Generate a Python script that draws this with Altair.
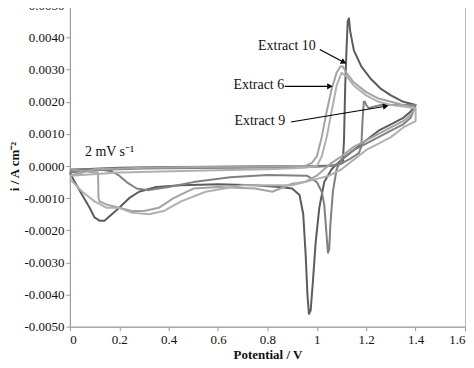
import math
import altair as alt
import pandas as pd

# ---------------- data (potential V, current A cm^-2) ----------------
V10 = [0.00, 0.05, 0.20, 0.40, 0.60, 0.80, 1.00, 1.08, 1.105, 1.11, 1.115, 1.12, 1.125, 1.13, 1.135, 1.15, 1.18, 1.22, 1.26, 1.30, 1.35, 1.40,
       1.38, 1.35, 1.30, 1.25, 1.20, 1.15, 1.10, 1.06, 1.03, 1.01, 0.995, 0.985, 0.975, 0.968, 0.962, 0.955, 0.945, 0.93, 0.90, 0.85, 0.75,
       0.60, 0.45, 0.35, 0.28, 0.24, 0.20, 0.17, 0.14, 0.12, 0.10, 0.08, 0.05, 0.02, 0.00]
I10 = [-0.00015, -0.0001, -0.00005, -0.00003, -0.00002, -0.00001, 0.0, 0.00002, 0.0001, 0.0008, 0.0025, 0.0036, 0.0045, 0.0046, 0.0042,
       0.0036, 0.0031, 0.0027, 0.0024, 0.0022, 0.0020, 0.0019,
       0.0017, 0.0015, 0.0013, 0.0011, 0.0008, 0.0005, 0.0002, -0.0001, -0.0005, -0.0013, -0.0024, -0.0035, -0.0045, -0.0046, -0.0040,
       -0.0028, -0.0015, -0.0009, -0.0007, -0.00065, -0.0006, -0.00057, -0.0006, -0.00065, -0.0008, -0.001, -0.0013, -0.0015, -0.0017,
       -0.0017, -0.0016, -0.0013, -0.0009, -0.0005, -0.0002]

V9 = [0.00, 0.10, 0.30, 0.50, 0.70, 0.90, 1.00, 1.05, 1.10, 1.14, 1.17, 1.18, 1.185, 1.19, 1.195, 1.20, 1.21, 1.23, 1.26, 1.30, 1.35, 1.40,
      1.38, 1.35, 1.30, 1.25, 1.20, 1.15, 1.10, 1.08, 1.065, 1.055, 1.05, 1.045, 1.04, 1.03, 1.02, 1.00, 0.96, 0.80, 0.65, 0.50, 0.40,
      0.32, 0.27, 0.23, 0.20, 0.17, 0.12, 0.05, 0.00]
I9 = [-0.0002, -0.00012, -0.00008, -0.00006, -0.00005, -0.00004, -0.00002, 0.0, 0.00008, 0.00025, 0.0004, 0.0006, 0.0014, 0.0020, 0.0020,
      0.0019, 0.0018, 0.00185, 0.0019, 0.0019, 0.0019, 0.0019,
      0.0015, 0.0013, 0.0011, 0.0009, 0.0007, 0.0005, 0.0002, -0.0001, -0.0008, -0.0018, -0.0026, -0.0027, -0.0022, -0.0012, -0.0008,
      -0.0005, -0.0003, -0.00028, -0.00035, -0.0005, -0.00065, -0.00075, -0.0007, -0.0005, -0.0003, -0.00017, -0.0001, -0.0001, -0.0001]

V6a = [0.00, 0.10, 0.30, 0.50, 0.70, 0.90, 0.95, 0.98, 1.00, 1.02, 1.04, 1.06, 1.08, 1.095, 1.105, 1.12, 1.15, 1.20, 1.25, 1.30, 1.35, 1.40,
       1.38, 1.35, 1.30, 1.25, 1.20, 1.15, 1.10, 1.06, 1.03, 1.00, 0.95, 0.90, 0.82, 0.75, 0.60, 0.50, 0.42, 0.36, 0.30, 0.25, 0.20, 0.15,
       0.12, 0.116, 0.114, 0.08, 0.04, 0.00]
I6a = [-0.0003, -0.0001, -0.00005, -0.00003, -0.00002, -0.00001, 0.0, 0.0001, 0.0003, 0.0009, 0.0017, 0.0024, 0.0029, 0.0031, 0.0031,
       0.0029, 0.0026, 0.0023, 0.0021, 0.0020, 0.0019, 0.0018,
       0.0016, 0.0014, 0.0012, 0.0010, 0.0008, 0.0006, 0.0003, 0.0001, -0.0001, -0.0003, -0.0005, -0.00055, -0.0008, -0.0007, -0.00065,
       -0.0007, -0.001, -0.0013, -0.0014, -0.0014, -0.0013, -0.0012, -0.0011, -0.0010, -0.0002, -0.00018, -0.00015, -0.0001]

V6b = [0.00, 0.20, 0.50, 0.80, 0.95, 1.00, 1.02, 1.04, 1.06, 1.08, 1.10, 1.12, 1.15, 1.20, 1.25, 1.30, 1.35, 1.40,
       1.40, 1.35, 1.30, 1.25, 1.20, 1.15, 1.10, 1.05, 1.00, 0.90, 0.70, 0.55, 0.45, 0.38, 0.32, 0.25, 0.20, 0.15, 0.10, 0.05, 0.00]
I6b = [-0.0003, -0.0002, -0.00015, -0.0001, -0.00005, 0.0, 0.0003, 0.0009, 0.0017, 0.0025, 0.0029, 0.0028, 0.0025, 0.0022, 0.0020,
       0.0019, 0.00185, 0.0018,
       0.0014, 0.0012, 0.0009, 0.0007, 0.0005, 0.0002, -0.0001, -0.0003, -0.0004, -0.0006, -0.0006, -0.0008, -0.0011, -0.0014, -0.0015,
       -0.00145, -0.0013, -0.0013, -0.0011, -0.0008, -0.0004]

SERIES = [("Extract 10", V10, I10), ("Extract 9", V9, I9), ("Extract 6", V6a, I6a), ("Extract 6b", V6b, I6b)]
SERIES_NAMES = ["Extract 10", "Extract 9", "Extract 6", "Extract 6b"]
SERIES_COLORS = ["#5c5c5c", "#808080", "#a3a3a3", "#b0b0b0"]

# annotations
LABELS = ["Extract 10", "Extract 6", "Extract 9"]
LABEL_X = [0.879, 0.765, 0.769]
LABEL_Y = [0.00373, 0.00252, 0.00140]
ARROW_X1 = [1.012, 0.870, 0.895]
ARROW_Y1 = [0.00363, 0.00248, 0.00137]
ARROW_X2 = [1.109, 1.053, 1.279]
ARROW_Y2 = [0.00323, 0.00248, 0.00186]
RATE_TEXT = "2 mV s\u207b\u00b9"
RATE_X = [0.061]
RATE_Y = [0.00043]

X_TICKS = [0, 0.2, 0.4, 0.6, 0.8, 1, 1.2, 1.4, 1.6]
Y_TICKS = [-0.005, -0.004, -0.003, -0.002, -0.001, 0.0, 0.001, 0.002, 0.003, 0.004, 0.005]

W, H = 396, 322
XD, YD = [0, 1.6], [-0.005, 0.005]
FONT = "Liberation Serif"

rows = []
for name, vs, cs in SERIES:
    for k, (v, c) in enumerate(zip(vs, cs)):
        rows.append({"series": name, "order": k, "V": v, "I": c})
curves = pd.DataFrame(rows)

ann = pd.DataFrame({"label": LABELS, "V": ARROW_X1, "I": ARROW_Y1, "V2": ARROW_X2, "I2": ARROW_Y2})
ann["angle"] = [
    (math.degrees(math.atan2(-(b2 - b1) * H / (YD[1] - YD[0]), (a2 - a1) * W / (XD[1] - XD[0]))) + 360) % 360
    for a1, b1, a2, b2 in zip(ARROW_X1, ARROW_Y1, ARROW_X2, ARROW_Y2)
]
heads_df = pd.DataFrame({"V": ARROW_X2, "I": ARROW_Y2, "angle": ann["angle"]})
text_df = pd.DataFrame({"label": LABELS, "V": LABEL_X, "I": LABEL_Y})
rate = pd.DataFrame({"t": [RATE_TEXT], "V": RATE_X, "I": RATE_Y})

xscale = alt.Scale(domain=XD, nice=False, zero=False)
yscale = alt.Scale(domain=YD, nice=False, zero=False)

xaxis = alt.Axis(values=X_TICKS, format="~g", title="Potential / V", grid=False, labelOverlap=False,
                 tickSize=4, labelPadding=3, titlePadding=2)
yaxis = alt.Axis(values=Y_TICKS, labelExpr="replace(format(datum.value, '.4f'), '\u2212', '-')",
                 labelOverlap=False, labelSeparation=0, title="i / A cm\u207b\u00b2", grid=False, tickSize=4,
                 labelPadding=2, titlePadding=2)

X = alt.X("V:Q", scale=xscale, axis=xaxis)
Y = alt.Y("I:Q", scale=yscale, axis=yaxis)

lines = alt.Chart(curves).mark_line(strokeWidth=2, strokeJoin="round").encode(
    x=X, y=Y,
    color=alt.Color("series:N", scale=alt.Scale(domain=SERIES_NAMES, range=SERIES_COLORS), legend=None),
    order="order:Q",
)

arrows = alt.Chart(ann).mark_rule(color="black", strokeWidth=1.2).encode(
    x=X, y=Y, x2="V2:Q", y2="I2:Q")

heads = alt.Chart(heads_df).mark_point(shape="triangle-right", filled=True, color="black", size=40, opacity=1).encode(
    x=X, y=Y, angle=alt.Angle("angle:Q", scale=None))

labels = alt.Chart(text_df).mark_text(font=FONT, fontSize=14, color="#111").encode(
    x=X, y=Y, text="label:N")

rate_txt = alt.Chart(rate).mark_text(font=FONT, fontSize=14, align="left", color="#111").encode(
    x=X, y=Y, text="t:N")

chart = alt.layer(lines, arrows, heads, labels, rate_txt).properties(
    width=W, height=H, padding={"left": 0, "top": -9, "right": 0, "bottom": 0}
).configure_view(stroke="#b8b8b8", strokeWidth=1).configure_axis(
    labelFont=FONT, titleFont=FONT, labelFontSize=13, titleFontSize=13, titleFontWeight="bold",
    labelColor="#111", titleColor="#111", domainColor="#999", tickColor="#999", labelOverlap=False
)

chart.save("out.html", embed_options={"renderer": "svg", "actions": False})
